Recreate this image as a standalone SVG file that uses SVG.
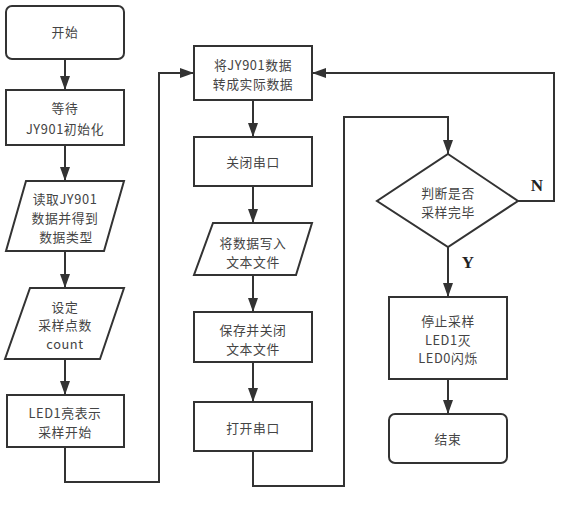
<svg xmlns="http://www.w3.org/2000/svg" width="567" height="509" viewBox="0 0 567 509">
<defs>
<marker id="ah" markerUnits="userSpaceOnUse" markerWidth="14" markerHeight="10" refX="14" refY="5" orient="auto">
<path d="M0,0 L14,5 L0,10 z" fill="#333"/>
</marker>
<style>
.s{fill:#fff;stroke:#333;stroke-width:2}
.t{font-family:"Noto Sans CJK SC","Noto Sans",sans-serif;font-size:12.8px;letter-spacing:0.6px;fill:#444;text-anchor:middle}
.c{fill:none;stroke:#333;stroke-width:2;marker-end:url(#ah)}
.lb{font-family:"Liberation Serif",serif;font-size:17px;font-weight:bold;fill:#222;text-anchor:middle}
</style>
</defs>
<rect width="567" height="509" fill="#fff"/>
<g id="connectors">
<path class="c" d="M65,59 L65,90"/>
<path class="c" d="M65,145 L65,181"/>
<path class="c" d="M65,251 L65,288"/>
<path class="c" d="M65,359 L65,395"/>
<path class="c" d="M65,447 L65,482 L159,482 L159,73 L194,73"/>
<path class="c" d="M253,100 L253,137"/>
<path class="c" d="M253,186 L253,223"/>
<path class="c" d="M253,275 L253,312"/>
<path class="c" d="M253,362 L253,402"/>
<path class="c" d="M253,451 L253,486 L344,486 L344,117 L448,117 L448,154"/>
<path class="c" d="M518,201 L554,201 L554,73 L312,73"/>
<path class="c" d="M448,247 L448,297"/>
<path class="c" d="M448,379 L448,414"/>
<text class="lb" x="537" y="191">N</text>
<text class="lb" x="468" y="268">Y</text>
</g>
<g id="start">
<rect class="s" x="6" y="6" width="118" height="53" rx="6"/>
<text class="t" x="65" y="37">开始</text>
</g>
<g id="wait">
<rect class="s" x="6" y="90" width="118" height="55"/>
<text class="t" x="65" y="113">等待</text>
<text class="t" x="65" y="134">JY901初始化</text>
</g>
<g id="read">
<path class="s" d="M26,181 L124,181 L104,251 L6,251 z"/>
<text class="t" x="65" y="204.4">读取JY901</text>
<text class="t" x="65" y="223">数据并得到</text>
<text class="t" x="66" y="241.6">数据类型</text>
</g>
<g id="setcount">
<path class="s" d="M30,288 L124,288 L100,359 L5,359 z"/>
<text class="t" x="65" y="311.5">设定</text>
<text class="t" x="65" y="330.1">采样点数</text>
<text class="t" x="65" y="348.7">count</text>
</g>
<g id="led1on">
<rect class="s" x="7" y="395" width="117" height="52"/>
<text class="t" x="65" y="417.5">LED1亮表示</text>
<text class="t" x="65" y="436.5">采样开始</text>
</g>
<g id="convert">
<rect class="s" x="194" y="46" width="118" height="54"/>
<text class="t" x="253" y="69.5">将JY901数据</text>
<text class="t" x="253" y="88.5">转成实际数据</text>
</g>
<g id="closeport">
<rect class="s" x="194" y="137" width="118" height="49"/>
<text class="t" x="253" y="166.5">关闭串口</text>
</g>
<g id="write">
<path class="s" d="M213,223 L312,223 L296,275 L194,275 z"/>
<text class="t" x="253" y="247.5">将数据写入</text>
<text class="t" x="253" y="266.5">文本文件</text>
</g>
<g id="save">
<rect class="s" x="194" y="312" width="118" height="50"/>
<text class="t" x="253" y="334.5">保存并关闭</text>
<text class="t" x="253" y="353.5">文本文件</text>
</g>
<g id="openport">
<rect class="s" x="194" y="402" width="118" height="49"/>
<text class="t" x="253" y="432.5">打开串口</text>
</g>
<g id="decision">
<path class="s" d="M448,154 L518,201 L448,247 L377,201 z"/>
<text class="t" x="448" y="198">判断是否</text>
<text class="t" x="448" y="216.6">采样完毕</text>
</g>
<g id="stop">
<rect class="s" x="389" y="297" width="118" height="82"/>
<text class="t" x="448" y="326">停止采样</text>
<text class="t" x="448" y="344.6">LED1灭</text>
<text class="t" x="448" y="363.2">LED0闪烁</text>
</g>
<g id="end">
<rect class="s" x="389" y="414" width="118" height="49" rx="6"/>
<text class="t" x="448" y="443.5">结束</text>
</g>
</svg>
